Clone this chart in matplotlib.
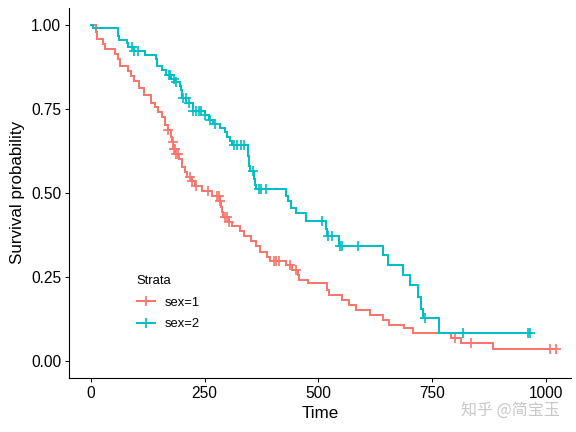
import numpy as np
import matplotlib
matplotlib.use("Agg")
import matplotlib.pyplot as plt
from matplotlib.lines import Line2D

# ---- data ----
strata = ["sex=1", "sex=2"]
colors = ["#F8766D", "#00BFC4"]

t_male = [0, 11, 13, 26, 31, 53, 60, 65, 81, 88, 95, 107, 118, 132, 142, 147, 156,
          163, 170, 177, 179, 181, 186, 194, 201, 207, 212, 222, 230, 245, 267, 283,
          286, 288, 291, 303, 310, 329, 337, 353, 363, 371, 387, 394, 428, 442, 455,
          457, 477, 520, 524, 553, 567, 583, 613, 643, 655, 689, 707, 791, 814, 883]
s_male = [1.0, 0.978, 0.957, 0.942, 0.928, 0.913, 0.899, 0.877, 0.862, 0.848, 0.833,
          0.812, 0.790, 0.768, 0.754, 0.739, 0.725, 0.703, 0.688, 0.666, 0.652, 0.630,
          0.615, 0.600, 0.578, 0.563, 0.548, 0.534, 0.519, 0.504, 0.489, 0.474, 0.459,
          0.444, 0.429, 0.414, 0.400, 0.385, 0.370, 0.355, 0.340, 0.325, 0.310, 0.296,
          0.284, 0.270, 0.255, 0.240, 0.230, 0.211, 0.196, 0.182, 0.167, 0.152, 0.137,
          0.122, 0.107, 0.097, 0.082, 0.067, 0.052, 0.035]
cens_male = [170, 180, 183, 185, 188, 192, 219, 222, 232, 258, 278, 281, 284, 296,
             300, 304, 402, 408, 414, 437, 450, 800, 836, 1008, 1022]

t_female = [0, 5, 61, 62, 79, 81, 95, 119, 144, 145, 156, 166, 176, 186, 196, 199, 201,
            210, 225, 250, 260, 268, 283, 296, 300, 305, 310, 345, 348, 351, 359, 361,
            364, 430, 433, 441, 450, 473, 517, 520, 545, 641, 652, 685, 702, 720, 726,
            731, 765]
s_female = [1.0, 0.989, 0.967, 0.956, 0.945, 0.934, 0.922, 0.911, 0.899, 0.876, 0.864,
            0.852, 0.840, 0.829, 0.817, 0.805, 0.781, 0.768, 0.744, 0.731, 0.718, 0.706,
            0.693, 0.680, 0.667, 0.654, 0.641, 0.610, 0.580, 0.565, 0.540, 0.524, 0.512,
            0.489, 0.475, 0.454, 0.440, 0.415, 0.393, 0.370, 0.340, 0.315, 0.286, 0.255,
            0.225, 0.190, 0.155, 0.127, 0.082]
cens_female = [90, 96, 103, 171, 175, 182, 188, 203, 209, 217, 225, 231, 238, 242, 252,
               262, 272, 314, 321, 330, 337, 356, 369, 374, 384, 507, 522, 530, 547, 552,
               587, 734, 818, 961, 965]

x_ticks = [0, 250, 500, 750, 1000]
y_ticks = [0.0, 0.25, 0.50, 0.75, 1.00]
y_ticklabels = ["0.00", "0.25", "0.50", "0.75", "1.00"]

plt.rcParams['font.family'] = ['Liberation Sans', 'DejaVu Sans']

fig = plt.figure(figsize=(8, 6), dpi=72)
ax = fig.add_axes([69.3 / 576, 1 - 377.5 / 432, (571 - 69.3) / 576, (377.5 - 8) / 432])

groups = [(t_male, s_male, cens_male), (t_female, s_female, cens_female)]
for (tt, ss, cc), col in zip(groups, colors):
    tt = np.asarray(tt, float)
    ss = np.asarray(ss, float)
    tmax = max(tt.max(), max(cc))
    tx = np.append(tt, tmax)
    sx = np.append(ss, ss[-1])
    ax.step(tx, sx, where='post', color=col, lw=2.0, solid_joinstyle='miter')
    cc = np.asarray(cc, float)
    idx = np.searchsorted(tt, cc, side='right') - 1
    ax.plot(cc, ss[idx], ls='none', marker='+', ms=10, mew=1.7, color=col)

ax.set_xlim(-47, 1055)
ax.set_ylim(-0.05, 1.05)
ax.set_xticks(x_ticks)
ax.set_yticks(y_ticks)
ax.set_yticklabels(y_ticklabels)
for sp in ['top', 'right']:
    ax.spines[sp].set_visible(False)
for sp in ['left', 'bottom']:
    ax.spines[sp].set_linewidth(1.1)
    ax.spines[sp].set_color('black')
ax.tick_params(axis='both', labelsize=15.5, colors='black', length=4, width=1,
               direction='out')
ax.tick_params(axis='x', pad=4)
ax.tick_params(axis='y', pad=4)
ax.set_xlabel("Time", fontsize=17, labelpad=5.5)
ax.set_ylabel("Survival probability", fontsize=17, labelpad=6)

handles = [Line2D([0], [0], color=c, lw=2.0, marker='+', ms=10, mew=1.7) for c in colors]
leg = fig.legend(handles, strata, title="Strata", loc='upper left',
                 bbox_to_anchor=(125 / 576, 1 - 263 / 432), frameon=False,
                 fontsize=13, title_fontsize=13, alignment='left',
                 handlelength=1.4, labelspacing=0.75, handletextpad=0.75)

fig.text(0.972, 1 - 410 / 432, "知乎 @简宝玉", ha='right', va='center', fontsize=16,
         color='#c8c8c8', family=['Noto Sans CJK SC', 'DejaVu Sans'])

fig.savefig("out.png", dpi=72)
